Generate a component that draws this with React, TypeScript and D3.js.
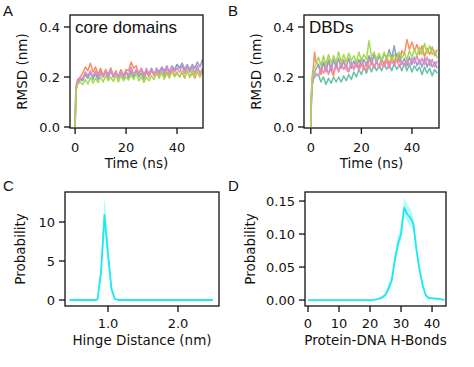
import * as d3 from "d3";

// time axis shared by all RMSD traces (ns)
const time = [
  0, 0.25, 0.5, 1, 1.5, 2, 3, 4, 5, 6, 7, 8, 9, 10, 11, 12, 13, 14, 15, 16, 17,
  18, 19, 20, 21, 22, 23, 24, 25, 26, 27, 28, 29, 30, 31, 32, 33, 34, 35, 36,
  37, 38, 39, 40, 41, 42, 43, 44, 45, 46, 47, 48, 49, 50,
];

// panel A - core domains RMSD (nm)
const coreTeal = [
  0, 0.12, 0.16, 0.18, 0.185, 0.19,
  0.185, 0.21, 0.195, 0.22, 0.19, 0.215, 0.2, 0.23,
  0.205, 0.225, 0.21, 0.235, 0.2, 0.22, 0.195, 0.21, 0.19, 0.22,
  0.195, 0.22, 0.195, 0.225, 0.2, 0.215, 0.19, 0.22, 0.205, 0.225,
  0.21, 0.23, 0.215, 0.235, 0.205, 0.235, 0.22, 0.24, 0.225, 0.25,
  0.235, 0.255, 0.22, 0.24, 0.22, 0.245, 0.215, 0.235, 0.21, 0.23,
];
const coreOrange = [
  0, 0.13, 0.17, 0.19, 0.195, 0.2,
  0.215, 0.24, 0.225, 0.255, 0.22, 0.24, 0.21, 0.235,
  0.205, 0.23, 0.205, 0.235, 0.205, 0.225, 0.2, 0.23, 0.205, 0.23,
  0.225, 0.26, 0.235, 0.245, 0.21, 0.23, 0.2, 0.225, 0.2, 0.23,
  0.205, 0.22, 0.2, 0.215, 0.2, 0.22, 0.2, 0.23, 0.205, 0.22,
  0.2, 0.22, 0.195, 0.225, 0.2, 0.215, 0.195, 0.22, 0.2, 0.22,
];
const coreBlue = [
  0, 0.11, 0.16, 0.18, 0.185, 0.19,
  0.19, 0.215, 0.195, 0.22, 0.2, 0.21, 0.19, 0.215,
  0.2, 0.22, 0.195, 0.225, 0.2, 0.215, 0.2, 0.225, 0.205, 0.22,
  0.21, 0.23, 0.205, 0.225, 0.215, 0.235, 0.21, 0.225, 0.215, 0.235,
  0.21, 0.235, 0.22, 0.24, 0.225, 0.245, 0.22, 0.245, 0.23, 0.25,
  0.235, 0.255, 0.23, 0.25, 0.23, 0.25, 0.235, 0.26, 0.24, 0.27,
];
const corePink = [
  0, 0.12, 0.165, 0.185, 0.19, 0.195,
  0.195, 0.22, 0.205, 0.225, 0.2, 0.225, 0.205, 0.22,
  0.2, 0.225, 0.2, 0.23, 0.205, 0.22, 0.195, 0.225, 0.2, 0.215,
  0.205, 0.24, 0.21, 0.23, 0.21, 0.235, 0.205, 0.235, 0.21, 0.225,
  0.21, 0.235, 0.205, 0.23, 0.215, 0.24, 0.21, 0.24, 0.22, 0.235,
  0.22, 0.245, 0.215, 0.24, 0.22, 0.24, 0.215, 0.245, 0.215, 0.235,
];
const coreGreen = [
  0, 0.1, 0.15, 0.17, 0.175, 0.18,
  0.17, 0.19, 0.172, 0.198, 0.175, 0.195, 0.178, 0.2,
  0.18, 0.205, 0.185, 0.2, 0.182, 0.208, 0.18, 0.205, 0.185, 0.2,
  0.188, 0.208, 0.19, 0.215, 0.185, 0.2, 0.178, 0.2, 0.185, 0.205,
  0.19, 0.215, 0.195, 0.22, 0.19, 0.215, 0.195, 0.222, 0.2, 0.215,
  0.2, 0.225, 0.2, 0.222, 0.198, 0.228, 0.2, 0.222, 0.205, 0.225,
];

// panel B - DBDs RMSD (nm)
const dbdTeal = [
  0, 0.11, 0.16, 0.19, 0.2, 0.205,
  0.21, 0.18, 0.2, 0.17, 0.195, 0.175, 0.2, 0.18,
  0.2, 0.18, 0.205, 0.185, 0.21, 0.19, 0.22, 0.2, 0.23, 0.21,
  0.24, 0.215, 0.245, 0.22, 0.25, 0.225, 0.245, 0.225, 0.255, 0.23,
  0.25, 0.225, 0.255, 0.23, 0.25, 0.225, 0.255, 0.225, 0.25, 0.22,
  0.245, 0.225, 0.24, 0.21, 0.24, 0.215, 0.235, 0.205, 0.23, 0.215,
];
const dbdOrange = [
  0, 0.14, 0.2, 0.24, 0.3, 0.26,
  0.25, 0.21, 0.26, 0.22, 0.27, 0.225, 0.205, 0.26,
  0.22, 0.255, 0.27, 0.23, 0.22, 0.26, 0.23, 0.27, 0.235, 0.275,
  0.24, 0.225, 0.265, 0.28, 0.235, 0.26, 0.245, 0.275, 0.25, 0.285,
  0.25, 0.285, 0.255, 0.295, 0.26, 0.305, 0.29, 0.35, 0.31, 0.34,
  0.305, 0.33, 0.29, 0.325, 0.28, 0.315, 0.29, 0.32, 0.285, 0.31,
];
const dbdBlue = [
  0, 0.12, 0.18, 0.21, 0.22, 0.23,
  0.25, 0.225, 0.26, 0.23, 0.265, 0.225, 0.27, 0.24,
  0.275, 0.235, 0.26, 0.24, 0.275, 0.235, 0.265, 0.24, 0.27, 0.245,
  0.27, 0.245, 0.285, 0.25, 0.29, 0.255, 0.285, 0.26, 0.295, 0.27,
  0.31, 0.275, 0.325, 0.265, 0.29, 0.25, 0.275, 0.245, 0.28, 0.25,
  0.28, 0.245, 0.27, 0.24, 0.275, 0.24, 0.27, 0.24, 0.26, 0.235,
];
const dbdPink = [
  0, 0.12, 0.17, 0.2, 0.21, 0.215,
  0.205, 0.235, 0.215, 0.245, 0.21, 0.25, 0.22, 0.24,
  0.225, 0.255, 0.23, 0.25, 0.225, 0.255, 0.23, 0.26, 0.225, 0.25,
  0.23, 0.26, 0.235, 0.26, 0.24, 0.265, 0.235, 0.255, 0.24, 0.265,
  0.235, 0.265, 0.245, 0.27, 0.24, 0.265, 0.245, 0.27, 0.245, 0.275,
  0.255, 0.285, 0.25, 0.275, 0.25, 0.28, 0.245, 0.27, 0.24, 0.265,
];
const dbdGreen = [
  0, 0.13, 0.19, 0.22, 0.24, 0.25,
  0.28, 0.245, 0.285, 0.25, 0.29, 0.255, 0.285, 0.26,
  0.3, 0.26, 0.29, 0.26, 0.295, 0.265, 0.285, 0.26, 0.3, 0.265,
  0.29, 0.27, 0.345, 0.28, 0.3, 0.27, 0.295, 0.265, 0.3, 0.27,
  0.295, 0.265, 0.29, 0.27, 0.3, 0.275, 0.295, 0.27, 0.305, 0.28,
  0.31, 0.285, 0.32, 0.29, 0.335, 0.295, 0.325, 0.29, 0.305, 0.275,
];

// panel C - hinge distance distribution
const hingeX = [0.45, 0.8, 0.85, 0.9, 0.95, 1.0, 1.05, 1.1, 1.15, 2.5];
const hingeP = [0, 0, 0.05, 3.5, 10.9, 6.0, 1.4, 0.1, 0, 0];
const hingeHi = [0.1, 0.1, 0.2, 4.8, 13.3, 7.3, 2.0, 0.3, 0.1, 0.1];
const hingeLo = [0, 0, 0, 2.4, 8.8, 4.8, 0.9, 0, 0, 0];

// panel D - protein-DNA h-bond distribution
const hbondX = [
  0, 1, 2, 3, 4, 5, 6, 7, 8, 9, 10, 11, 12, 13, 14, 15, 16, 17, 18, 19, 20,
  21, 22, 23, 24, 25, 26, 27, 28, 29, 30, 31, 32, 33, 34, 35, 36, 37, 38, 39,
  40, 41, 42, 43, 44,
];
const hbondP = [
  0, 0, 0, 0, 0, 0, 0, 0, 0, 0, 0, 0, 0, 0, 0, 0, 0, 0, 0, 0, 0,
  0.0003, 0.001, 0.002, 0.004, 0.008, 0.018, 0.03, 0.06, 0.085, 0.1,
  0.14, 0.13, 0.125, 0.115, 0.075, 0.045, 0.022, 0.007, 0.003,
  0.003, 0.002, 0.002, 0.001, 0,
];
const hbondHi = [
  0, 0, 0, 0, 0, 0, 0, 0, 0, 0, 0, 0, 0, 0, 0, 0, 0, 0, 0, 0, 0.0005,
  0.001, 0.002, 0.004, 0.007, 0.012, 0.025, 0.038, 0.07, 0.095, 0.115,
  0.155, 0.145, 0.138, 0.125, 0.085, 0.052, 0.027, 0.01, 0.005,
  0.004, 0.003, 0.003, 0.002, 0.001,
];
const hbondLo = [
  0, 0, 0, 0, 0, 0, 0, 0, 0, 0, 0, 0, 0, 0, 0, 0, 0, 0, 0, 0, 0,
  0, 0, 0.001, 0.002, 0.005, 0.012, 0.022, 0.05, 0.075, 0.09,
  0.128, 0.118, 0.112, 0.105, 0.066, 0.038, 0.017, 0.004, 0.001,
  0.001, 0.001, 0.001, 0, 0,
];

const colors = {
  teal: "#66c2a5",
  orange: "#fc8d62",
  blue: "#8da0cb",
  pink: "#e78ac3",
  green: "#a6d854",
};
const cyan = "#1ee8f0";

const tickFont = "DejaVu Sans, Verdana, sans-serif";
const labelFont = "Liberation Sans, Arial, sans-serif";

type Box = { x0: number; x1: number; y0: number; y1: number };

const Panel = (props: {
  box: Box;
  xDomain: number[];
  yDomain: number[];
  xTicks: number[];
  yTicks: number[];
  xFmt: string;
  yFmt: string;
  xTitle: string;
  yTitle: string;
  xLabelY: number;
  xTitleY: number;
  yTitleX: number;
  draw: (x: any, y: any) => any;
}) => {
  const { box } = props;
  const x = d3.scaleLinear().domain(props.xDomain).range([box.x0, box.x1]);
  const y = d3.scaleLinear().domain(props.yDomain).range([box.y1, box.y0]);
  const xf = d3.format(props.xFmt);
  const yf = d3.format(props.yFmt);
  const cy = (box.y0 + box.y1) / 2;
  const clipId = "clip" + box.x0 + "_" + box.y0;

  return (
    <g>
      <defs>
        <clipPath id={clipId}>
          <rect x={box.x0} y={box.y0} width={box.x1 - box.x0} height={box.y1 - box.y0} />
        </clipPath>
      </defs>
      <g clipPath={`url(#${clipId})`}>{props.draw(x, y)}</g>
      <rect
        x={box.x0}
        y={box.y0}
        width={box.x1 - box.x0}
        height={box.y1 - box.y0}
        fill="none"
        stroke="#111"
        strokeWidth={1.3}
      />
      {props.yTicks.map((t) => (
        <g key={"y" + t}>
          <line x1={box.x0 - 6} x2={box.x0} y1={y(t)} y2={y(t)} stroke="#111" strokeWidth={1.3} />
          <text
            x={box.x0 - 10}
            y={y(t)}
            dy="0.36em"
            textAnchor="end"
            fontFamily={tickFont}
            fontSize={13}
            fill="#111"
          >
            {yf(t)}
          </text>
        </g>
      ))}
      {props.xTicks.map((t) => (
        <g key={"x" + t}>
          <line x1={x(t)} x2={x(t)} y1={box.y1} y2={box.y1 + 6} stroke="#111" strokeWidth={1.3} />
          <text
            x={x(t)}
            y={props.xLabelY}
            textAnchor="middle"
            fontFamily={tickFont}
            fontSize={13}
            fill="#111"
          >
            {xf(t)}
          </text>
        </g>
      ))}
      <text
        x={(box.x0 + box.x1) / 2}
        y={props.xTitleY}
        textAnchor="middle"
        fontFamily={tickFont}
        fontSize={13.5}
        fill="#111"
      >
        {props.xTitle}
      </text>
      <text
        transform={`translate(${props.yTitleX},${cy}) rotate(-90)`}
        textAnchor="middle"
        fontFamily={tickFont}
        fontSize={13.5}
        fill="#111"
      >
        {props.yTitle}
      </text>
    </g>
  );
};

const rmsdLines = (series: { color: string; values: number[] }[]) => (x: any, y: any) => {
  const line = d3
    .line<number>()
    .x((_, i) => x(time[i]))
    .y((d) => y(d));
  return series.map((s, i) => (
    <path key={i} d={line(s.values) || ""} fill="none" stroke={s.color} strokeWidth={1.5} strokeLinejoin="round" />
  ));
};

const distLines = (xs: number[], mid: number[], hi: number[], lo: number[]) => (x: any, y: any) => {
  const area = d3
    .area<number>()
    .x((d) => x(d))
    .y0((_, i) => y(lo[i]))
    .y1((_, i) => y(hi[i]));
  const line = d3
    .line<number>()
    .x((d) => x(d))
    .y((_, i) => y(mid[i]));
  return (
    <g>
      <path d={area(xs) || ""} fill={cyan} fillOpacity={0.3} />
      <path d={line(xs) || ""} fill="none" stroke={cyan} strokeWidth={1.8} strokeLinejoin="round" />
    </g>
  );
};

const App = () => {
  const coreSeries = [
    { color: colors.teal, values: coreTeal },
    { color: colors.orange, values: coreOrange },
    { color: colors.blue, values: coreBlue },
    { color: colors.pink, values: corePink },
    { color: colors.green, values: coreGreen },
  ];
  const dbdSeries = [
    { color: colors.teal, values: dbdTeal },
    { color: colors.orange, values: dbdOrange },
    { color: colors.blue, values: dbdBlue },
    { color: colors.pink, values: dbdPink },
    { color: colors.green, values: dbdGreen },
  ];

  return (
    <svg
      width={474}
      height={367}
      viewBox="0 0 474 367"
      style={{ position: "absolute", left: 0, top: 0, background: "#fff" }}
    >
      <Panel
        box={{ x0: 70, x1: 203, y0: 15, y1: 128 }}
        xDomain={[-2, 50.2]}
        yDomain={[-0.004, 0.448]}
        xTicks={[0, 20, 40]}
        yTicks={[0, 0.2, 0.4]}
        xFmt="d"
        yFmt=".1f"
        xTitle="Time (ns)"
        yTitle="RMSD (nm)"
        xLabelY={152}
        xTitleY={168}
        yTitleX={27}
        draw={rmsdLines(coreSeries)}
      />
      <Panel
        box={{ x0: 304, x1: 439, y0: 15, y1: 128 }}
        xDomain={[-2.7, 50.7]}
        yDomain={[-0.004, 0.448]}
        xTicks={[0, 20, 40]}
        yTicks={[0, 0.2, 0.4]}
        xFmt="d"
        yFmt=".1f"
        xTitle="Time (ns)"
        yTitle="RMSD (nm)"
        xLabelY={152}
        xTitleY={168}
        yTitleX={261}
        draw={rmsdLines(dbdSeries)}
      />
      <Panel
        box={{ x0: 65, x1: 219, y0: 192, y1: 306 }}
        xDomain={[0.386, 2.586]}
        yDomain={[-0.77, 13.85]}
        xTicks={[1, 2]}
        yTicks={[0, 5, 10]}
        xFmt=".1f"
        yFmt="d"
        xTitle="Hinge Distance (nm)"
        yTitle="Probability"
        xLabelY={328}
        xTitleY={345}
        yTitleX={25}
        draw={distLines(hingeX, hingeP, hingeHi, hingeLo)}
      />
      <Panel
        box={{ x0: 305, x1: 446, y0: 192, y1: 306 }}
        xDomain={[-0.97, 44.5]}
        yDomain={[-0.009, 0.1637]}
        xTicks={[0, 10, 20, 30, 40]}
        yTicks={[0, 0.05, 0.1, 0.15]}
        xFmt="d"
        yFmt=".2f"
        xTitle="Protein-DNA H-Bonds"
        yTitle="Probability"
        xLabelY={328}
        xTitleY={345}
        yTitleX={255}
        draw={distLines(hbondX, hbondP, hbondHi, hbondLo)}
      />
      <text x={75} y={33} fontFamily={labelFont} fontSize={17} fill="#111">
        core domains
      </text>
      <text x={309} y={33} fontFamily={labelFont} fontSize={17} fill="#111">
        DBDs
      </text>
      {[
        ["A", 3, 16],
        ["B", 228, 16],
        ["C", 3, 191],
        ["D", 228, 191],
      ].map(([t, px, py]) => (
        <text key={t as string} x={px as number} y={py as number} fontFamily={labelFont} fontSize={15} fill="#111">
          {t}
        </text>
      ))}
    </svg>
  );
};

export default App;
